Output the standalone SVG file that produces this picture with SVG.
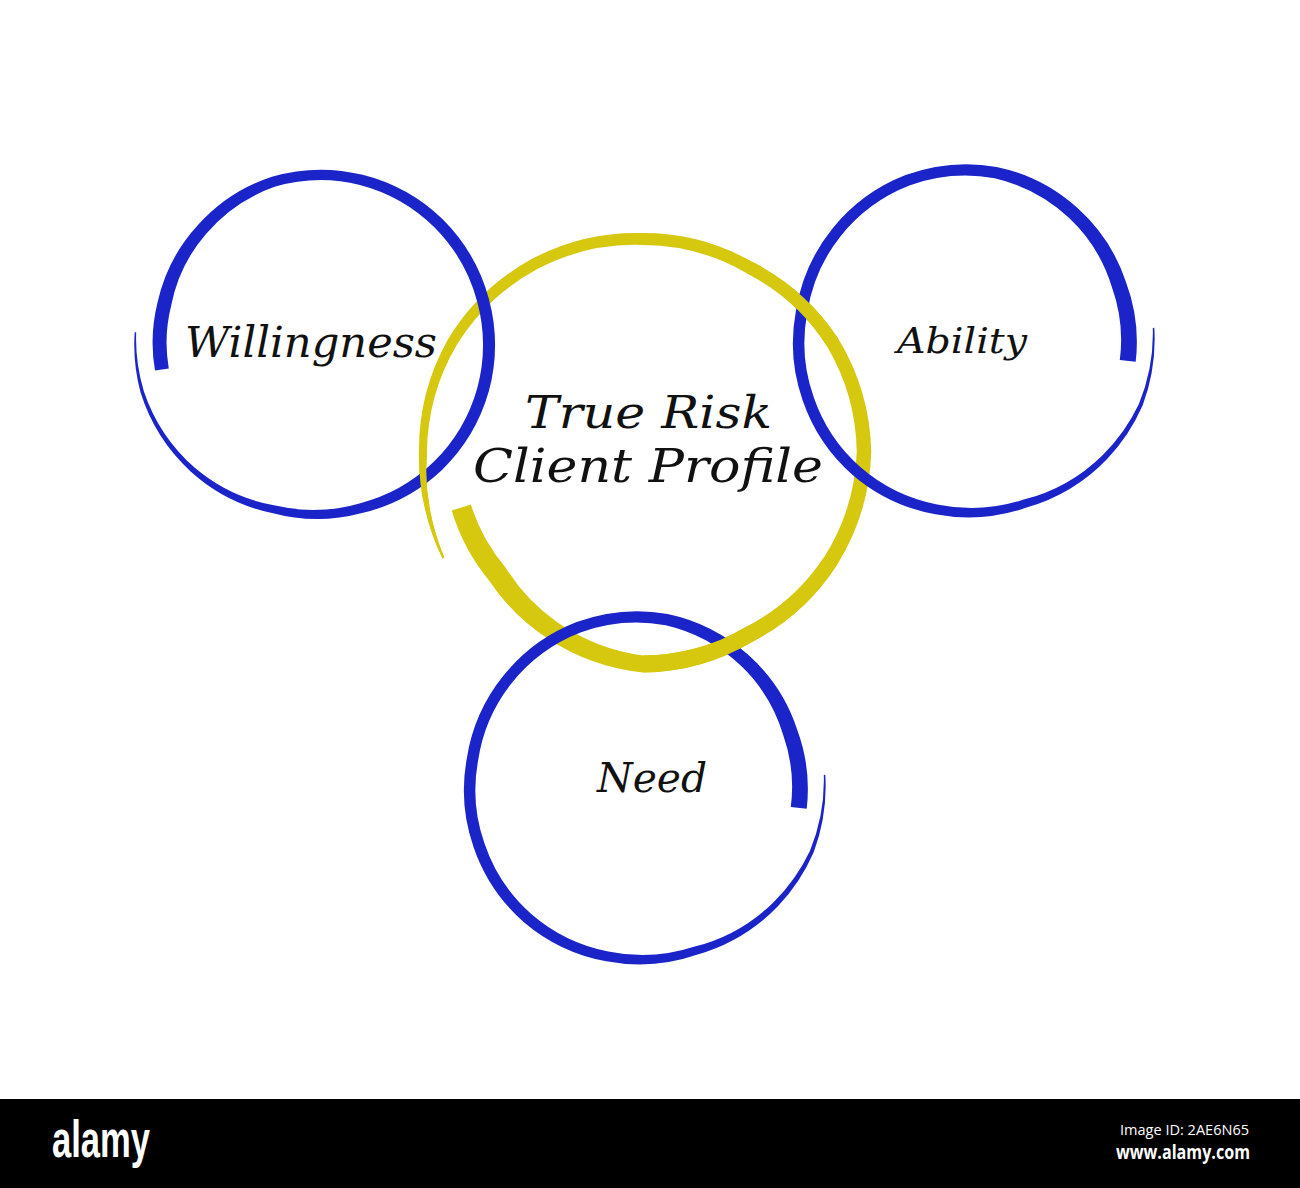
<svg xmlns="http://www.w3.org/2000/svg" width="1300" height="1188" viewBox="0 0 1300 1188">
<style>
  .b { fill: #1b24c9; stroke: none; }
  .y { fill: #d6c70f; stroke: none; }
  .lbl { font-family: "DejaVu Serif", "Liberation Serif", serif; font-style: italic; fill: #111; }
  .bar { fill: #fff; }
</style>
<defs>
  <path id="ringA" d="M1135.7 361.8 A170.8 170.8 0 0 0 1126.2 282.7 A172 172 0 0 0 1077.5 208.1 A175 175 0 0 0 996.7 166.9 A176.6 176.6 0 0 0 905.6 175.1 A175.5 175.5 0 0 0 832.3 228.8 A173.6 173.6 0 0 0 795.9 311.0 A173.25 173.25 0 0 0 802.7 400.4 A174.6 174.6 0 0 0 853.2 475.4 A175.75 175.75 0 0 0 935.4 514.3 A176.6 176.6 0 0 0 1026.6 507.6 A180.6 180.6 0 0 0 1106.9 459.3 A186 186 0 0 0 1142.7 405.3 A188.4 188.4 0 0 0 1154.3 327.8 L1152.8 327.9 A185.6 185.6 0 0 1 1138.9 403.9 A181 181 0 0 1 1102.3 455.4 A173.4 173.4 0 0 1 1023.7 499.6 A167.4 167.4 0 0 1 937.2 504.5 A165.25 165.25 0 0 1 860.3 467.0 A163.4 163.4 0 0 1 813.5 396.5 A161.75 161.75 0 0 1 807.2 313.0 A162.4 162.4 0 0 1 840.8 235.9 A164.5 164.5 0 0 1 909.4 185.5 A165.4 165.4 0 0 1 994.7 178.3 A162.9 162.9 0 0 1 1069.2 218.1 A158 158 0 0 1 1112.1 287.8 A155.25 155.25 0 0 1 1119.8 359.9 Z"/>
</defs>
<rect x="0" y="0" width="1300" height="1188" fill="#fff"/>

<g id="profile">
  <path class="y" d="M451.7 510.5 A200.25 200.25 0 0 0 489.4 580.9 A205 205 0 0 0 547.9 638.7 A215 215 0 0 0 643 672.5 A219.75 219.75 0 0 0 752.5 641.7 A221.75 221.75 0 0 0 837.4 564.3 A226.4 226.4 0 0 0 871.25 452 A227 227 0 0 0 838.5 339.1 A222.5 222.5 0 0 0 752.6 262.1 A219.1 219.1 0 0 0 643 233 A220.9 220.9 0 0 0 531.6 259.1 A224 224 0 0 0 447.9 339.4 A224.6 224.6 0 0 0 419 452 A224.6 224.6 0 0 0 425.4 510.3 A226.1 226.1 0 0 0 442.6 558.6 L444.3 557.6 A222.9 222.9 0 0 1 429.8 509.1 A218.4 218.4 0 0 1 427 452 A215.4 215.4 0 0 1 457.0 344.6 A213 213 0 0 1 537.4 269.1 A209.1 209.1 0 0 1 643 245 A206.9 206.9 0 0 1 746.4 273.0 A209.5 209.5 0 0 1 826.8 345.9 A213 213 0 0 1 856.75 452 A211.6 211.6 0 0 1 824.4 556.8 A206.25 206.25 0 0 1 744.5 627.8 A203.25 203.25 0 0 1 643 655.5 A197 197 0 0 1 556.5 621.7 A185 185 0 0 1 505.5 567.4 A179.75 179.75 0 0 1 470.9 504.6 Z"/>
  <text class="lbl" x="525" y="428" font-size="45" textLength="247" lengthAdjust="spacingAndGlyphs">True Risk</text>
  <text class="lbl" x="473" y="482" font-size="46" textLength="350" lengthAdjust="spacingAndGlyphs">Client Profile</text>
</g>

<g id="willingness">
  <path class="b" d="M155.0 370.6 A164.5 164.5 0 0 1 157.6 302.3 A167 167 0 0 1 197.5 225.5 A171.6 171.6 0 0 1 271.9 176.7 A175.3 175.3 0 0 1 362.6 174.8 A177 177 0 0 1 442.7 219.3 A177.9 177.9 0 0 1 488.9 298.9 A178 178 0 0 1 488.9 391.1 A177.4 177.4 0 0 1 442.0 470.0 A175.4 175.4 0 0 1 362.0 513.1 A174 174 0 0 1 272.0 513.1 A176.4 176.4 0 0 1 190.6 471.4 A180.8 180.8 0 0 1 140.5 392.3 A182.75 182.75 0 0 1 134.7 332.2 L136.2 332.3 A180.3 180.3 0 0 0 143.9 391.4 A176.3 176.3 0 0 0 194.5 467.5 A169.6 169.6 0 0 0 274.0 505.3 A165 165 0 0 0 359.4 503.4 A164.6 164.6 0 0 0 433.8 461.8 A165.6 165.6 0 0 0 477.3 388.0 A166 166 0 0 0 477.3 302.0 A166.1 166.1 0 0 0 434.6 227.4 A166 166 0 0 0 359.9 184.9 A164.75 164.75 0 0 0 274.6 186.8 A160.4 160.4 0 0 0 206.0 234.0 A154 154 0 0 0 171.1 305.9 A150.5 150.5 0 0 0 168.8 368.5 Z"/>
  <text class="lbl" x="185" y="357" font-size="42" textLength="252" lengthAdjust="spacingAndGlyphs">Willingness</text>
</g>

<g id="ability">
  <use href="#ringA" class="b"/>
  <text class="lbl" x="897" y="353" font-size="36" textLength="130" lengthAdjust="spacingAndGlyphs">Ability</text>
</g>

<g id="need">
  <use href="#ringA" class="b" transform="translate(-329 447)"/>
  <text class="lbl" x="597" y="792" font-size="41" textLength="110" lengthAdjust="spacingAndGlyphs">Need</text>
</g>

<g id="profile-overlaps">
  <path class="y" d="M643 672.5 A219.75 219.75 0 0 0 752.5 641.7 A221.75 221.75 0 0 0 837.4 564.3 L824.4 556.8 A206.25 206.25 0 0 1 744.5 627.8 A203.25 203.25 0 0 1 643 655.5 Z"/>
  <path class="y" d="M838.5 339.1 A222.5 222.5 0 0 0 752.6 262.1 L746.4 273.0 A209.5 209.5 0 0 1 826.8 345.9 Z"/>
  <path class="y" d="M419 452 A224.6 224.6 0 0 0 425.4 510.3 A226.1 226.1 0 0 0 442.6 558.6 L444.3 557.6 A222.9 222.9 0 0 1 429.8 509.1 A218.4 218.4 0 0 1 427 452 Z"/>
</g>

<g id="footer">
  <rect x="0" y="1099" width="1300" height="89" fill="#000"/>
  <text class="bar" x="52" y="1157" font-family="Liberation Sans, Arial, sans-serif" font-weight="bold" font-size="52" textLength="98" lengthAdjust="spacingAndGlyphs">alamy</text>
  <text class="bar" x="1120" y="1135" font-family="Open Sans, Noto Sans, sans-serif" font-size="15" textLength="129" lengthAdjust="spacingAndGlyphs">Image ID: 2AE6N65</text>
  <text class="bar" x="1116" y="1159" font-family="Open Sans, Noto Sans, sans-serif" font-weight="bold" font-size="20" textLength="134" lengthAdjust="spacingAndGlyphs">www.alamy.com</text>
</g>
</svg>
